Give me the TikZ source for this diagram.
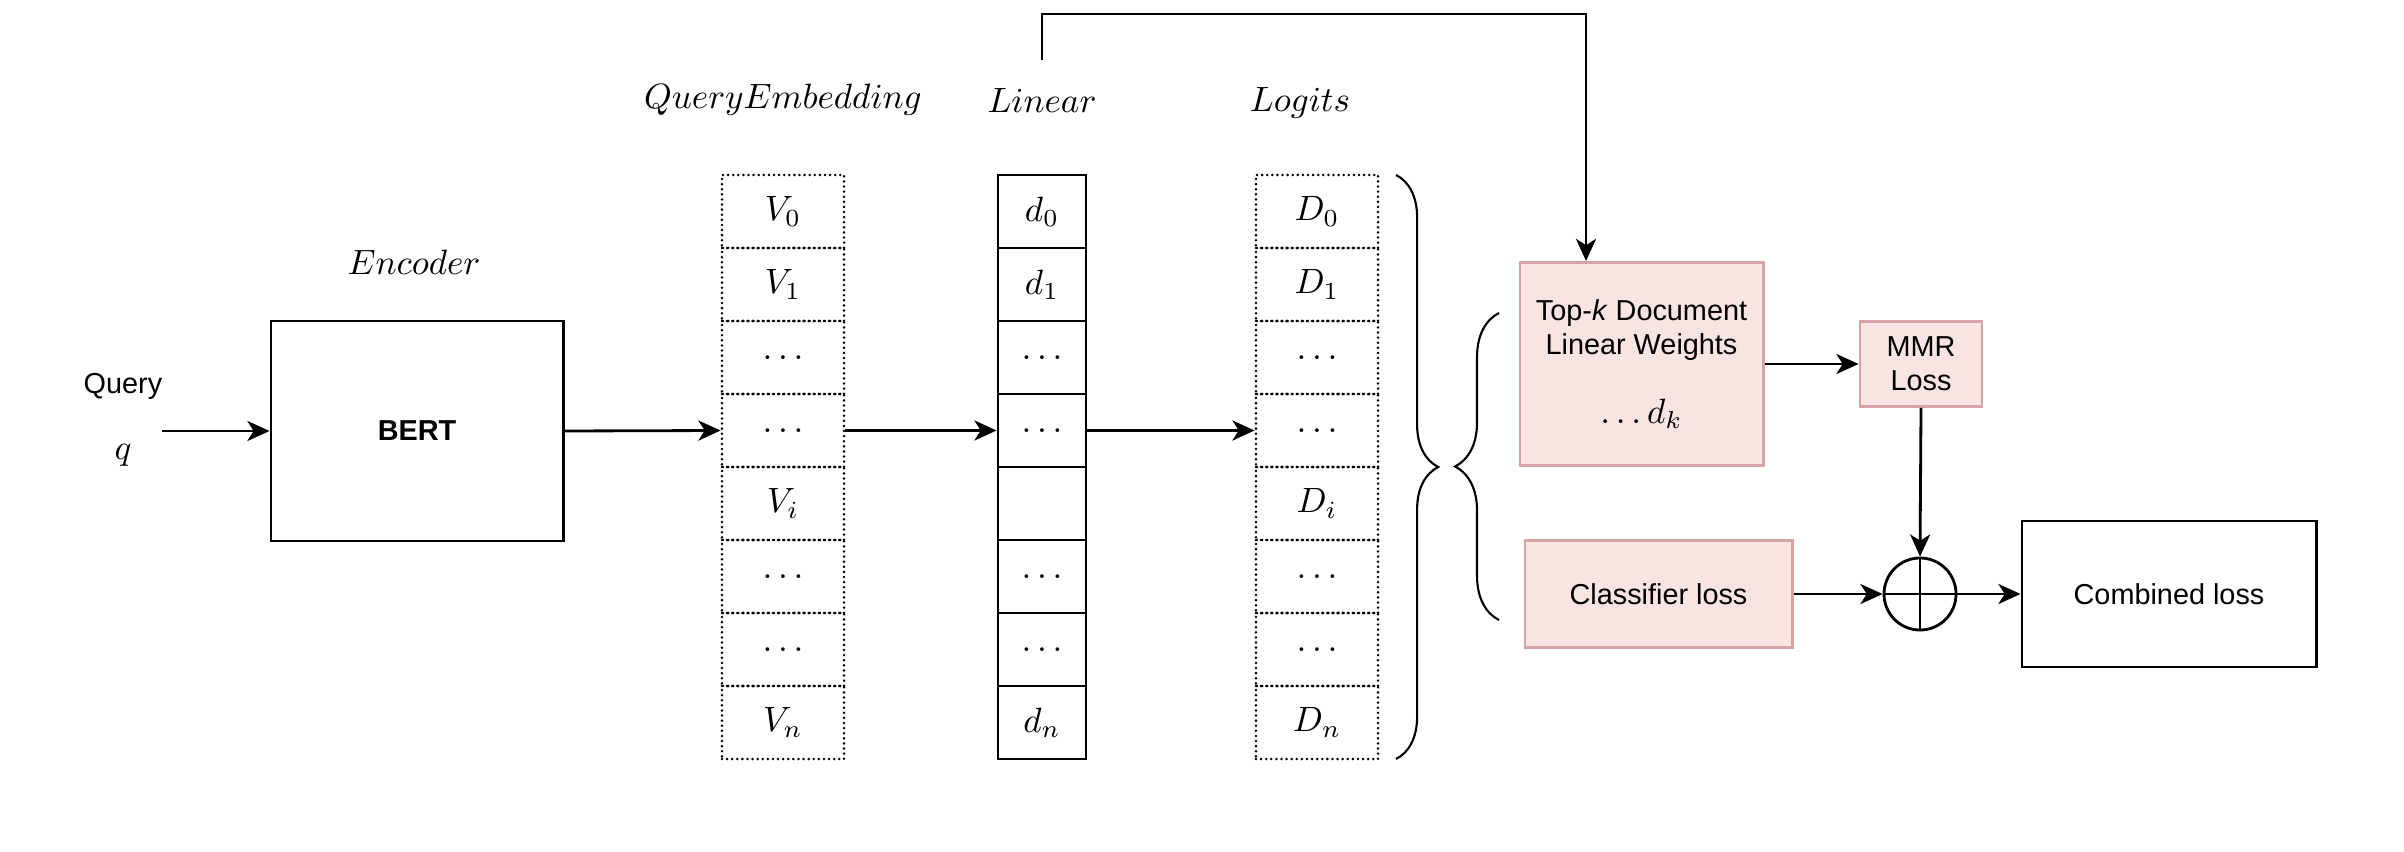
\documentclass[tikz,border=0pt]{standalone}
\usepackage{amsmath}
\usepackage{amssymb}
\usepackage[no-math]{fontspec}
\usepackage{tikz}
\usepackage{xcolor}
\usetikzlibrary{arrows.meta,decorations.pathreplacing}

\newfontfamily\arialfont{Liberation Sans}
\definecolor{pinkfill}{RGB}{249,228,228}
\definecolor{pinkline}{RGB}{214,164,164}

\tikzset{
    arr/.style={thick, -{Stealth[length=6.3pt,width=5.7pt,inset=1.8pt]}},
    sans/.style={font=\arialfont\fontsize{8.2}{9.6}\selectfont},
    dotcell/.style={draw, thick, line cap=round, dash pattern=on 0pt off 1.45pt, minimum width=1.22cm, minimum height=0.73cm, inner sep=0pt},
    lincell/.style={draw, thick, minimum width=0.88cm, minimum height=0.73cm, inner sep=0pt},
    pinkbox/.style={sans, draw=pinkline, thick, fill=pinkfill, align=center, inner sep=0pt},
    plainbox/.style={sans, draw, thick, align=center, inner sep=0pt},
    sumnode/.style={draw, thick, circle, minimum size=0.72cm, inner sep=0pt},
    bracedraw/.style={line width=0.6pt, decorate}
}

\begin{document}
\begin{tikzpicture}[x=0.01cm, y=-0.01cm]
        \useasboundingbox (0,0) rectangle (2404,852);
        \node[sans] (query) at (123,386) {Query};
        \node (qvar) at (123,455) {$q$};
        \coordinate (qin) at (162,431);
        \node (enclab) at (414,262) {$Encoder$};
        \node[plainbox, minimum width=2.92cm, minimum height=2.2cm] (bert) at (417,431) {\textbf{BERT}};
        \node (qelab) at (783,100) {$QueryEmbedding$};
        \node[dotcell] (qe0) at (783,211.5) {$V_0$};
        \node[dotcell] (qe1) at (783,284.5) {$V_1$};
        \node[dotcell] (qe2) at (783,357.5) {$\ldots$};
        \node[dotcell] (qe3) at (783,430.5) {$\ldots$};
        \node[dotcell] (qe4) at (783,503.5) {$V_i$};
        \node[dotcell] (qe5) at (783,576.5) {$\ldots$};
        \node[dotcell] (qe6) at (783,649.5) {$\ldots$};
        \node[dotcell] (qe7) at (783,722.5) {$V_n$};
        \node (linlab) at (1042,100) {$Linear$};
        \node[lincell] (lin0) at (1042,211.5) {$d_0$};
        \node[lincell] (lin1) at (1042,284.5) {$d_1$};
        \node[lincell] (lin2) at (1042,357.5) {$\ldots$};
        \node[lincell] (lin3) at (1042,430.5) {$\ldots$};
        \node[lincell] (lin4) at (1042,503.5) {};
        \node[lincell] (lin5) at (1042,576.5) {$\ldots$};
        \node[lincell] (lin6) at (1042,649.5) {$\ldots$};
        \node[lincell] (lin7) at (1042,722.5) {$d_n$};
        \node (lglab) at (1300,103) {$Logits$};
        \node[dotcell] (lg0) at (1317,211.5) {$D_0$};
        \node[dotcell] (lg1) at (1317,284.5) {$D_1$};
        \node[dotcell] (lg2) at (1317,357.5) {$\ldots$};
        \node[dotcell] (lg3) at (1317,430.5) {$\ldots$};
        \node[dotcell] (lg4) at (1317,503.5) {$D_i$};
        \node[dotcell] (lg5) at (1317,576.5) {$\ldots$};
        \node[dotcell] (lg6) at (1317,649.5) {$\ldots$};
        \node[dotcell] (lg7) at (1317,722.5) {$D_n$};
        \draw[bracedraw, decoration={brace, amplitude=12pt}] (1396,175) -- (1396,759);
        \draw[bracedraw, decoration={brace, amplitude=12.5pt}] (1499,620) -- (1499,313);
        \node[pinkbox, minimum width=2.43cm, minimum height=2.03cm] (topk) at (1641.5,364) {Top-\textit{k} Document\\Linear Weights\\[10pt]{\normalsize$\ldots d_k$}};
        \node[pinkbox, minimum width=1.22cm, minimum height=0.85cm] (mmr) at (1921,364) {MMR\\Loss};
        \node[pinkbox, minimum width=2.67cm, minimum height=1.07cm] (cls) at (1658.5,594) {Classifier loss};
        \node[sumnode] (plus) at (1920,594) {};
        \node[plainbox, minimum width=2.94cm, minimum height=1.46cm] (comb) at (2169,594) {Combined loss};
        \coordinate (fb) at ([yshift=4.3pt]linlab.north);
        \coordinate (turn) at (1586,14);
        \draw[arr] (qin) -- (bert.west);
        \draw[arr] (bert.east) -- (qe3.west);
        \draw[arr] (qe3.east) -- (lin3.west);
        \draw[arr] (lin3.east) -- (lg3.west);
        \draw[arr] (fb) |- (turn) -- (turn |- topk.north);
        \draw[arr] (topk.east) -- (mmr.west);
        \draw[arr] (mmr.south) -- (plus.north);
        \draw[arr] (cls.east) -- (plus.west);
        \draw[thick] (plus.north) -- (plus.south);
        \draw[thick] (plus.west) -- (plus.east);
        \draw[arr] (plus.east) -- (comb.west);
    \end{tikzpicture}
\end{document}
